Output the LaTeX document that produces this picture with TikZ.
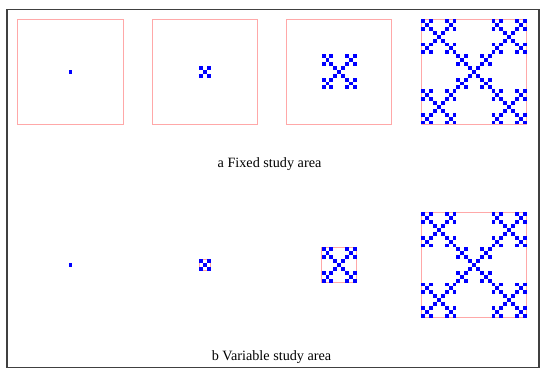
\documentclass[tikz,border=0pt]{standalone}
\usepackage{fontspec}
\setmainfont{Liberation Serif}
\usepackage{tikz}

\definecolor{areapink}{HTML}{FFA8A8}
\definecolor{cellblue}{HTML}{0000FF}
\definecolor{framegray}{HTML}{404040}

\tikzset{
    cell/.style={fill=cellblue, draw=none},
    area/.style={draw=areapink, line width=0.9pt},
    outer/.style={draw=framegray, line width=1.3pt},
    caption/.style={anchor=base, font=\fontsize{14.2}{16}\selectfont}
}

% X-shaped Vicsek fractal of level #1 (0..3), centred at (#2,#3), cells 3.9 px
\newcommand{\xfractal}[3]{%
    \pgfmathsetmacro{\xhalf}{3^#1*3.9/2}
    \begin{scope}[shift={(#2-\xhalf,#3-\xhalf)}, x=3.9pt, y=-3.9pt]
    \ifcase#1\relax
        \fill[cell] (0,0) rectangle ++(1,1);
    \or
        \foreach \a/\b in {0/0,2/0,1/1,0/2,2/2}
            \fill[cell] (\a,\b) rectangle ++(1,1);
    \or
        \foreach \a/\b in {0/0,2/0,1/1,0/2,2/2}
            \foreach \c/\d in {0/0,2/0,1/1,0/2,2/2}
                \fill[cell] ({3*\a+\c},{3*\b+\d}) rectangle ++(1,1);
    \or
        \foreach \a/\b in {0/0,2/0,1/1,0/2,2/2}
            \foreach \c/\d in {0/0,2/0,1/1,0/2,2/2}
                \foreach \e/\f in {0/0,2/0,1/1,0/2,2/2}
                    \fill[cell] ({9*\a+3*\c+\e},{9*\b+3*\d+\f}) rectangle ++(1,1);
    \fi
    \end{scope}}

\begin{document}
\begin{tikzpicture}[x=1pt, y=-1pt]
    \useasboundingbox (0,0) rectangle (550,378);

    % Outer frame
    \draw[outer] (7,9.5) rectangle (539,367.5);

    % a: fixed study area, same box for every level
    \foreach \i/\cx in {0/70.5, 1/204.8, 2/339.2, 3/474} {
        \draw[area] (\cx-52.65,19.1) rectangle (\cx+52.65,124.4);
        \xfractal{\i}{\cx}{71.75}
    }
    \node[caption] (fixed) at (269.5,167) {a Fixed study area};

    % b: variable study area, box grows with the fractal
    \foreach \i/\cx in {1/204.8, 2/339.2, 3/474} {
        \pgfmathsetmacro{\h}{3^\i*3.9/2}
        \draw[area] (\cx-\h,265-\h) rectangle (\cx+\h,265+\h);
    }
    \foreach \i/\cx in {0/70.5, 1/204.8, 2/339.2, 3/474} {
        \xfractal{\i}{\cx}{265}
    }
    \node[caption] (variable) at (271.5,360) {b Variable study area};
\end{tikzpicture}
\end{document}
